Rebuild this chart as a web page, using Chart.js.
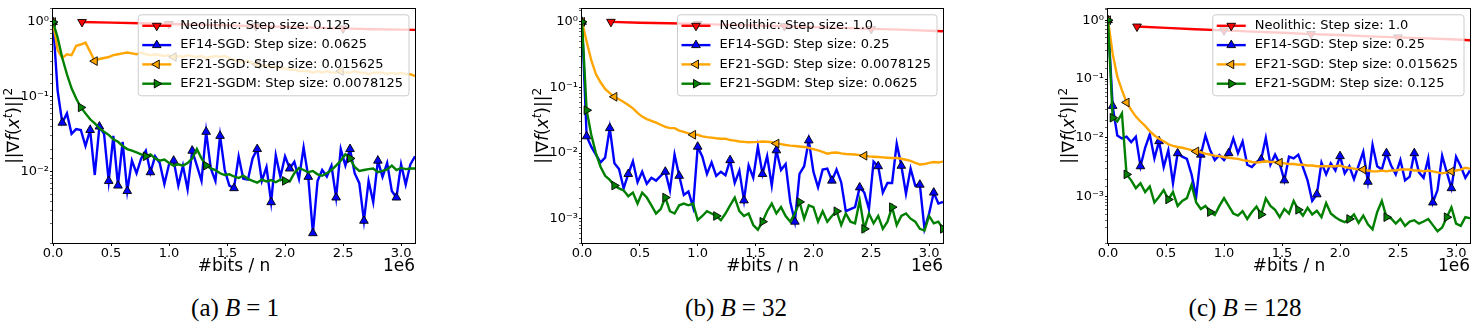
<!DOCTYPE html>
<html>
<head>
<meta charset="utf-8">
<script src="https://cdn.jsdelivr.net/npm/chart.js@4.4.1/dist/chart.umd.min.js"></script>
<style>
  body { margin: 0; background: #fff; width: 1473px; height: 334px; position: relative; overflow: hidden; }
  canvas { position: absolute; top: 0; }
  .cap { position: absolute; top: 294px; line-height: 28px; font-family: "Liberation Serif", serif; font-size: 25px;
         transform: translateX(-50%); white-space: nowrap; color: #000; }
  .cap .eq { margin: 0 6px; }
</style>
</head>
<body>
<canvas id="panelA" width="480" height="280" style="left:0px"></canvas>
<canvas id="panelB" width="490" height="280" style="left:490px"></canvas>
<canvas id="panelC" width="493" height="280" style="left:980px"></canvas>

<script>
// #bits / n, in units of 1e6 (the "1e6" offset shown on the x axis)
const bits = [0, 0.04, 0.08, 0.12, 0.16, 0.2, 0.24, 0.28, 0.32, 0.36,
  0.4, 0.44, 0.48, 0.52, 0.56, 0.6, 0.64, 0.68, 0.72, 0.76,
  0.8, 0.84, 0.88, 0.92, 0.96, 1.0, 1.04, 1.08, 1.12, 1.16,
  1.2, 1.24, 1.28, 1.32, 1.36, 1.4, 1.44, 1.48, 1.52, 1.56,
  1.6, 1.64, 1.68, 1.72, 1.76, 1.8, 1.84, 1.88, 1.92, 1.96,
  2.0, 2.04, 2.08, 2.12, 2.16, 2.2, 2.24, 2.28, 2.32, 2.36,
  2.4, 2.44, 2.48, 2.52, 2.56, 2.6, 2.64, 2.68, 2.72, 2.76,
  2.8, 2.84, 2.88, 2.92, 2.96, 3.0, 3.04, 3.08, 3.12];
// Neolithic communicates in bigger rounds
const neolithicBits = [0.25, 0.5, 0.75, 1.0, 1.25, 1.5, 1.75, 2.0, 2.25, 2.5, 2.75, 3.0, 3.25];

const xTicks = [0, 0.5, 1.0, 1.5, 2.0, 2.5, 3.0];
const xMax = 3.12;

const seriesNames = ['Neolithic', 'EF14-SGD', 'EF21-SGD', 'EF21-SGDM'];
const panelTags = ['(a)', '(b)', '(c)'];
const batchSizes = [1, 32, 128];

const stepSizesA = ['0.125', '0.0625', '0.015625', '0.0078125'];
const stepSizesB = ['1.0', '0.25', '0.0078125', '0.0625'];
const stepSizesC = ['1.0', '0.25', '0.015625', '0.125'];

const yRangeA = [1.11e-3, 1.5];
const yRangeB = [4.26e-4, 1.58];
const yRangeC = [1.64e-4, 1.56];

// ---- (a) B = 1 ----
const neolithicA = [1.0, 0.98, 0.96, 0.94, 0.92, 0.9, 0.88, 0.86, 0.84, 0.82, 0.8, 0.79, 0.78];
const ef14A = [1.0, 0.12, 0.045, 0.06, 0.032, 0.037, 0.036, 0.022, 0.036, 0.009,
  0.04, 0.032, 0.0075, 0.03, 0.0065, 0.025, 0.0055, 0.014, 0.0095, 0.015,
  0.019, 0.0098, 0.016, 0.013, 0.0068, 0.0125, 0.014, 0.0065, 0.012, 0.0058,
  0.019, 0.012, 0.0075, 0.034, 0.011, 0.0075, 0.03, 0.0105, 0.0065, 0.006,
  0.016, 0.008, 0.0078, 0.015, 0.02, 0.0075, 0.0115, 0.0039, 0.0165, 0.0085,
  0.016, 0.011, 0.0135, 0.008, 0.021, 0.0085, 0.0015, 0.0075, 0.0105, 0.0086,
  0.012, 0.0045, 0.02, 0.012, 0.02, 0.0095, 0.007, 0.0022, 0.0075, 0.0039,
  0.014, 0.0085, 0.013, 0.0055, 0.0045, 0.0125, 0.0067, 0.0125, 0.016];
const ef21A = [1.0, 0.42, 0.33, 0.37, 0.36, 0.48, 0.50, 0.53, 0.40, 0.30,
  0.32, 0.33, 0.34, 0.36, 0.37, 0.38, 0.39, 0.38, 0.37, 0.39,
  0.37, 0.36, 0.37, 0.36, 0.35, 0.36, 0.34, 0.35, 0.34, 0.36,
  0.35, 0.34, 0.35, 0.33, 0.34, 0.35, 0.34, 0.35, 0.33, 0.31,
  0.30, 0.29, 0.30, 0.28, 0.27, 0.26, 0.26, 0.25, 0.25, 0.24,
  0.24, 0.23, 0.23, 0.22, 0.22, 0.22, 0.21, 0.22, 0.21, 0.22,
  0.21, 0.21, 0.22, 0.21, 0.21, 0.22, 0.21, 0.21, 0.20, 0.21,
  0.21, 0.21, 0.20, 0.21, 0.20, 0.21, 0.20, 0.20, 0.19];
const ef21mA = [1.0, 0.62, 0.33, 0.2, 0.13, 0.095, 0.072, 0.06, 0.05, 0.044,
  0.038, 0.034, 0.031, 0.027, 0.025, 0.022, 0.02, 0.019, 0.018, 0.017,
  0.016, 0.017, 0.015, 0.014, 0.0145, 0.013, 0.012, 0.0125, 0.012, 0.013,
  0.015, 0.02, 0.015, 0.012, 0.011, 0.0105, 0.0095, 0.009, 0.0092, 0.0086,
  0.0082, 0.0088, 0.008, 0.0075, 0.0071, 0.0078, 0.0074, 0.0077, 0.0072, 0.0078,
  0.0075, 0.0074, 0.0095, 0.0112, 0.0105, 0.0098, 0.0102, 0.0092, 0.0088, 0.0095,
  0.0105, 0.012, 0.014, 0.017, 0.015, 0.0115, 0.0102, 0.0105, 0.0108, 0.011,
  0.0098, 0.0102, 0.0107, 0.012, 0.0105, 0.0112, 0.0108, 0.011, 0.011];

// ---- (b) B = 32 ----
const neolithicB = [1.0, 0.97, 0.95, 0.93, 0.9, 0.88, 0.86, 0.83, 0.81, 0.78, 0.76, 0.73, 0.71];
const ef14B = [1.0, 0.018, 0.0125, 0.0095, 0.0072, 0.0085, 0.024, 0.007, 0.0057, 0.0029,
  0.0048, 0.0075, 0.0036, 0.0052, 0.0034, 0.0042, 0.0038, 0.0045, 0.0052, 0.0027,
  0.0095, 0.0045, 0.0023, 0.0026, 0.0015, 0.0125, 0.0088, 0.0048, 0.0072, 0.0045,
  0.0052, 0.0046, 0.0078, 0.0035, 0.0054, 0.0019, 0.0065, 0.0042, 0.0125, 0.0048,
  0.009, 0.0032, 0.011, 0.0055, 0.0068, 0.0018, 0.0009, 0.0048, 0.0063, 0.0156,
  0.0052, 0.003, 0.0056, 0.0058, 0.0038, 0.0056, 0.0036, 0.0013, 0.0014, 0.0015,
  0.003, 0.0025, 0.0014, 0.0074, 0.0063, 0.0025, 0.0035, 0.0035, 0.0139, 0.0064,
  0.0024, 0.0058, 0.0032, 0.0033, 0.0007, 0.0012, 0.0025, 0.0017, 0.0018];
const ef21B = [1.0, 0.5, 0.26, 0.16, 0.12, 0.095, 0.082, 0.072, 0.066, 0.06,
  0.054, 0.048, 0.041, 0.036, 0.033, 0.031, 0.029, 0.027, 0.025, 0.024,
  0.024, 0.022, 0.021, 0.02, 0.019, 0.019, 0.018, 0.0175, 0.0172, 0.0168,
  0.0165, 0.0166, 0.0158, 0.0155, 0.015, 0.0148, 0.0146, 0.0147, 0.0148, 0.015,
  0.0149, 0.0146, 0.014, 0.0137, 0.0133, 0.013, 0.0128, 0.0126, 0.0124, 0.012,
  0.0115, 0.011, 0.0104, 0.0098, 0.0101, 0.0102, 0.0099, 0.0097, 0.0096, 0.0095,
  0.0093, 0.0091, 0.0089, 0.0088, 0.0087, 0.0086, 0.0085, 0.0084, 0.0084, 0.0082,
  0.0079, 0.0076, 0.0071, 0.0067, 0.0068, 0.0071, 0.0073, 0.0072, 0.0074];
const ef21mB = [1.0, 0.045, 0.019, 0.01, 0.0062, 0.0045, 0.0039, 0.0032, 0.0029, 0.0027,
  0.0022, 0.0025, 0.0017, 0.0025, 0.0021, 0.0016, 0.0012, 0.0014, 0.0021, 0.0013,
  0.0012, 0.0016, 0.0017, 0.0016, 0.0017, 0.00095, 0.0011, 0.0013, 0.0012, 0.0011,
  0.00095, 0.0012, 0.0016, 0.0021, 0.0013, 0.0011, 0.0012, 0.0008, 0.00068, 0.0009,
  0.0013, 0.0017, 0.0012, 0.0015, 0.0011, 0.0009, 0.0012, 0.0018, 0.001, 0.0016,
  0.0015, 0.0009, 0.0013, 0.0009, 0.0011, 0.0013, 0.0008, 0.0012, 0.0009, 0.00085,
  0.0019, 0.0007, 0.0012, 0.00085, 0.0011, 0.0007, 0.0009, 0.0015, 0.0008, 0.0011,
  0.0012, 0.001, 0.0009, 0.0007, 0.00066, 0.0011, 0.00085, 0.0009, 0.0007];

// ---- (c) B = 128 ----
const neolithicC = [0.78, 0.74, 0.70, 0.67, 0.64, 0.61, 0.58, 0.56, 0.53, 0.51, 0.49, 0.47, 0.44];
const ef14C = [1.0, 0.035, 0.011, 0.0098, 0.0105, 0.0085, 0.0105, 0.0033, 0.0068, 0.0115,
  0.0045, 0.0088, 0.0032, 0.0062, 0.0017, 0.0055, 0.0048, 0.0044, 0.0024, 0.001,
  0.0052, 0.011, 0.0062, 0.0042, 0.0051, 0.0042, 0.0055, 0.0098, 0.0055, 0.0087,
  0.0035, 0.0032, 0.0039, 0.0043, 0.01, 0.0035, 0.0052, 0.0036, 0.0019, 0.0048,
  0.0045, 0.0052, 0.0032, 0.0019, 0.00085, 0.0011, 0.0038, 0.0024, 0.0037, 0.0028,
  0.0049, 0.0025, 0.0033, 0.002, 0.0034, 0.0058, 0.0018, 0.0076, 0.0033, 0.0029,
  0.0055, 0.0034, 0.0024, 0.0042, 0.0019, 0.0022, 0.0055, 0.0026, 0.0021, 0.0045,
  0.0008, 0.0013, 0.005, 0.0026, 0.0014, 0.0048, 0.0033, 0.0021, 0.0028];
const ef21C = [1.0, 0.27, 0.11, 0.065, 0.04, 0.03, 0.023, 0.019, 0.016, 0.013,
  0.011, 0.0097, 0.0088, 0.0078, 0.0073, 0.007, 0.0068, 0.0065, 0.0062, 0.0059,
  0.0057, 0.0054, 0.0052, 0.005, 0.0049, 0.0047, 0.0046, 0.0045, 0.0044, 0.0042,
  0.0041, 0.0039, 0.0038, 0.0039, 0.004, 0.0039, 0.0039, 0.0038, 0.0037, 0.0036,
  0.0036, 0.0035, 0.0035, 0.0034, 0.0034, 0.0033, 0.0033, 0.0033, 0.0033, 0.0033,
  0.0034, 0.0032, 0.0031, 0.003, 0.0029, 0.0029, 0.0028, 0.0027, 0.0027, 0.0028,
  0.0027, 0.0028, 0.0028, 0.0029, 0.0029, 0.0029, 0.0028, 0.0028, 0.0027, 0.0028,
  0.0027, 0.0026, 0.0025, 0.0026, 0.0027, 0.0028, 0.0029, 0.0031, 0.003];
const ef21mC = [1.0, 0.022, 0.019, 0.026, 0.0024, 0.0019, 0.0014, 0.0017, 0.0012, 0.0015,
  0.0008, 0.001, 0.0013, 0.0009, 0.0012, 0.0007, 0.00085, 0.00095, 0.0016, 0.0008,
  0.00062, 0.0007, 0.00055, 0.00049, 0.0007, 0.00095, 0.0007, 0.00052, 0.00048, 0.00057,
  0.00042, 0.00055, 0.00068, 0.0005, 0.00094, 0.0007, 0.0006, 0.00045, 0.00062, 0.00052,
  0.00085, 0.0006, 0.00048, 0.00065, 0.0005, 0.00058, 0.00045, 0.00078, 0.00052, 0.00045,
  0.0004, 0.00037, 0.00042, 0.0005, 0.00036, 0.00048, 0.00034, 0.00028, 0.00055, 0.00085,
  0.00045, 0.00043, 0.00035, 0.00042, 0.00032, 0.00038, 0.0004, 0.00035, 0.00038, 0.00042,
  0.00033, 0.00026, 0.0003, 0.00045, 0.00066, 0.00035, 0.00032, 0.00045, 0.00043];

// ---- styling ----
const colors = ['red', 'blue', 'orange', 'green'];
const markerRot = [180, 0, -90, 90];   // v ^ < >
const markerR = 5;
const lineW = 2.4;
const markEvery = 0.2;                 // like matplotlib markevery=0.2 (fraction of axes diagonal)
const FONT = '"DejaVu Sans"';

const SUP = {'0': '\u2070', '1': '\u00b9', '2': '\u00b2', '3': '\u00b3', '-': '\u207b'};
function powLabel(v) {
  const e = Math.log10(v);
  if (Math.abs(e - Math.round(e)) > 1e-6) return '';
  return '10' + String(Math.round(e)).split('').map(c => SUP[c]).join('');
}

function triangle(ctx, x, y, r, rotDeg) {
  let a = rotDeg * Math.PI / 180;
  ctx.beginPath();
  for (let k = 0; k < 3; k++) {
    const px = x + Math.sin(a) * r, py = y - Math.cos(a) * r;
    if (k === 0) ctx.moveTo(px, py); else ctx.lineTo(px, py);
    a += 2 * Math.PI / 3;
  }
  ctx.closePath();
  ctx.fill();
  ctx.stroke();
}

// pick marker indices by distance along the drawn line, as matplotlib's float markevery does
const markEveryPlugin = {
  id: 'markEvery',
  beforeDatasetsUpdate(chart) {
    const xs = chart.scales.x, ys = chart.scales.y;
    const diag = Math.hypot(chart.chartArea.width, chart.chartArea.height);
    chart.data.datasets.forEach(ds => {
      let acc = 0, prev = null;
      const dist = ds.data.map(p => {
        const px = xs.getPixelForValue(p.x), py = ys.getPixelForValue(p.y);
        if (prev) acc += Math.hypot(px - prev[0], py - prev[1]);
        prev = [px, py];
        return acc;
      });
      const marks = new Set();
      for (let d = 0; d < acc; d += markEvery * diag) {
        let best = 0;
        dist.forEach((v, i) => { if (Math.abs(v - d) < Math.abs(dist[best] - d)) best = i; });
        marks.add(best);
      }
      ds.marks = marks;
    });
  }
};

function drawYLabel(ctx, bx, cy) {
  const parts = [
    ['||\u2207', `17px ${FONT}`, 0], ['f', `italic 17px ${FONT}`, 0], ['(', `17px ${FONT}`, 0],
    ['x', `italic 17px ${FONT}`, 0], ['t', `italic 12px ${FONT}`, -7.5], [')||', `17px ${FONT}`, 0],
    ['2', `12px ${FONT}`, -7.5]
  ];
  ctx.save();
  ctx.translate(bx, cy);
  ctx.rotate(-Math.PI / 2);
  ctx.fillStyle = '#000';
  ctx.textBaseline = 'alphabetic';
  ctx.textAlign = 'left';
  let total = 0;
  parts.forEach(([t, f]) => { ctx.font = f; total += ctx.measureText(t).width; });
  let u = -total / 2;
  parts.forEach(([t, f, dy]) => { ctx.font = f; ctx.fillText(t, u, dy); u += ctx.measureText(t).width; });
  ctx.restore();
}

function drawLegend(ctx, area, labels) {
  ctx.save();
  ctx.font = `13px ${FONT}`;
  const textW = Math.max(...labels.map(l => ctx.measureText(l).width));
  const right = area.right - 6, top = area.top + 6;
  const left = right - (4 + 29 + 9 + textW + 6);
  const h = 81, r = 3;
  ctx.beginPath();
  ctx.moveTo(left + r, top);
  ctx.arcTo(right, top, right, top + h, r);
  ctx.arcTo(right, top + h, left, top + h, r);
  ctx.arcTo(left, top + h, left, top, r);
  ctx.arcTo(left, top, right, top, r);
  ctx.closePath();
  ctx.fillStyle = 'rgba(255,255,255,0.8)';
  ctx.fill();
  ctx.strokeStyle = '#cccccc';
  ctx.lineWidth = 1;
  ctx.stroke();
  labels.forEach((l, k) => {
    const yy = top + 11 + k * 19.3;
    ctx.strokeStyle = colors[k];
    ctx.lineWidth = lineW;
    ctx.beginPath();
    ctx.moveTo(left + 4, yy);
    ctx.lineTo(left + 33, yy);
    ctx.stroke();
    ctx.fillStyle = colors[k];
    ctx.strokeStyle = '#000';
    ctx.lineWidth = 0.9;
    triangle(ctx, left + 18.5, yy, markerR, markerRot[k]);
    ctx.fillStyle = '#000';
    ctx.textBaseline = 'middle';
    ctx.textAlign = 'left';
    ctx.font = `13px ${FONT}`;
    ctx.fillText(l, left + 42, yy);
  });
  ctx.restore();
}

function makePanel(id, areaLeft, areaRight, yRange, series, steps) {
  const canvas = document.getElementById(id);
  const xsFor = [neolithicBits, bits, bits, bits];
  const datasets = series.map((vals, k) => ({
    label: seriesNames[k],
    data: vals.map((v, i) => ({x: xsFor[k][i], y: v})),
    borderColor: colors[k],
    borderWidth: lineW,
    pointBackgroundColor: colors[k],
    pointBorderColor: '#000',
    pointBorderWidth: 0.9,
    pointStyle: 'triangle',
    pointRotation: markerRot[k],
    pointRadius: ctx => (ctx.dataset.marks && ctx.dataset.marks.has(ctx.dataIndex)) ? markerR : 0,
    pointHoverRadius: 0,
    tension: 0,
    fill: false,
    order: 3 - k
  }));
  const labels = seriesNames.map((n, k) => `${n}: Step size: ${steps[k]}`);

  const decor = {
    id: 'decor',
    afterDatasetsDraw(chart) {
      const a = chart.chartArea, ctx = chart.ctx;
      ctx.save();
      ctx.strokeStyle = '#000';
      ctx.lineWidth = 1;
      ctx.strokeRect(Math.round(a.left) - 0.5, Math.round(a.top) - 0.5,
                     Math.round(a.right - a.left) + 1, Math.round(a.bottom - a.top) + 1);
      ctx.restore();
    },
    afterDraw(chart) {
      const a = chart.chartArea, ctx = chart.ctx;
      drawLegend(ctx, a, labels);
      ctx.save();
      ctx.fillStyle = '#000';
      ctx.font = `17px ${FONT}`;
      ctx.textBaseline = 'alphabetic';
      ctx.textAlign = 'center';
      ctx.fillText('#bits / n', (a.left + a.right) / 2, 271);
      ctx.textAlign = 'right';
      ctx.fillText('1e6', a.right, 271);
      ctx.restore();
      drawYLabel(ctx, a.left - 34, (a.top + a.bottom) / 2);
    }
  };

  const tickGrid = {
    display: true,
    drawOnChartArea: false,
    drawTicks: true,
    tickLength: 3,
    tickColor: '#000',
  };

  return new Chart(canvas, {
    type: 'line',
    data: {datasets},
    plugins: [markEveryPlugin, decor],
    options: {
      responsive: false,
      animation: false,
      devicePixelRatio: 1,
      events: [],
      layout: {autoPadding: false, padding: {left: 0, top: 3, right: canvas.width - areaRight, bottom: 0}},
      plugins: {legend: {display: false}, tooltip: {enabled: false}},
      scales: {
        x: {
          type: 'linear',
          min: 0,
          max: xMax,
          afterFit: s => { s.height = 37; },
          afterBuildTicks: s => { s.ticks = xTicks.map(v => ({value: v})); },
          border: {display: false},
          grid: Object.assign({}, tickGrid, {tickWidth: 1}),
          ticks: {
            callback: v => v.toFixed(1),
            maxRotation: 0,
            autoSkip: false,
            padding: 0,
            color: '#000',
            font: {family: 'DejaVu Sans', size: 13}
          }
        },
        y: {
          type: 'logarithmic',
          min: yRange[0],
          max: yRange[1],
          afterFit: s => { s.width = areaLeft; },
          border: {display: false},
          grid: Object.assign({}, tickGrid, {
            tickWidth: c => (c.tick && powLabel(c.tick.value)) ? 1 : 0.6
          }),
          ticks: {
            callback: v => powLabel(v),
            autoSkip: false,
            padding: 1,
            color: '#000',
            font: {family: 'DejaVu Sans', size: 13}
          }
        }
      }
    }
  });
}

makePanel('panelA', 53, 415, yRangeA, [neolithicA, ef14A, ef21A, ef21mA], stepSizesA);
makePanel('panelB', 92, 453, yRangeB, [neolithicB, ef14B, ef21B, ef21mB], stepSizesB);
makePanel('panelC', 128, 490, yRangeC, [neolithicC, ef14C, ef21C, ef21mC], stepSizesC);

// sub-figure captions
const captionCenters = [235, 736, 1245];
panelTags.forEach((tag, k) => {
  const d = document.createElement('div');
  d.className = 'cap';
  d.style.left = captionCenters[k] + 'px';
  d.innerHTML = `${tag} <i>B</i><span class="eq">=</span>${batchSizes[k]}`;
  document.body.appendChild(d);
});
</script>
</body>
</html>
